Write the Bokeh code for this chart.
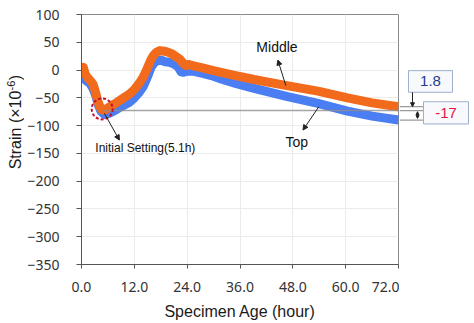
import math
from bokeh.plotting import figure
from bokeh.layouts import row
from bokeh.models import (Range1d, FixedTicker, PrintfTickFormatter, Arrow,
                          NormalHead, Label)
from bokeh.core.properties import value
from bokeh.embed import file_html
from bokeh.resources import INLINE

# ---- data ----
middle_t = [0, 0.4, 0.8, 1.3, 1.9, 2.6, 3.2, 3.7, 4.2, 4.7, 5.3, 6.2, 7.5, 9.0,
            10.9, 12.0, 13.1, 14.0, 14.6, 15.2, 15.8, 16.4, 17.0, 17.8, 18.8,
            19.7, 20.6, 21.5, 22.4, 23.1, 23.7, 24.3, 24.9, 25.7, 27.5, 29.5,
            31.7, 35.0, 39.2, 46.0, 53.7, 60.4, 66.0, 72.0]
middle_v = [2, 5, -6, -13, -18, -25, -40, -56, -66, -72, -72, -67, -61, -53,
            -43, -35, -24, -13, -3, 8, 19, 27, 32, 35, 34,
            32, 29, 24, 19, 12, 8, 10, 9, 7, 4, 0,
            -4, -10, -17, -27, -38, -50, -59, -66]

top_t = [0, 0.5, 1.2, 1.9, 2.6, 3.2, 3.8, 4.4, 5.2, 6.2, 7.5, 9.0, 10.9, 12.0,
         13.1, 14.0, 14.6, 15.2, 15.8, 16.4, 17.0, 18.0, 19.0, 20.0, 21.0,
         22.0, 22.6, 23.2, 24.0, 25.3, 27.5, 29.5, 31.7, 35.0, 39.2, 46.8,
         53.7, 60.4, 66.0, 72.0]
top_v = [-8, -15, -20, -24, -33, -45, -62, -74, -80, -78, -73, -66, -58, -50,
         -40, -30, -19, -8, 5, 12, 16, 18, 15, 14, 11,
         5, -3, -4, -2, -2, -6, -10, -16, -24, -33, -48,
         -60, -74, -83, -90]

x_ticks = [0, 12, 24, 36, 48, 60, 72]
y_ticks = [100, 50, 0, -50, -100, -150, -200, -250, -300, -350]

y_title_parts = ["Strain (×10", "-6", ")"]
x_title = "Specimen Age (hour)"
setting_time = 5.1
setting_strain = -73
diff_middle = "1.8"
diff_top = "-17"

BLUE = "#4a7ef2"
ORANGE = "#f26b1d"
PX_PER_H = 318 / 72.0
STRIP_W = 24

y_range = Range1d(-350, 100)

# ---- left strip holding the y-axis title (with raised exponent) ----
# frames in a row are aligned, so this strip's frame spans page y 14..264
s = figure(width=STRIP_W, height=323, output_backend="svg",
           toolbar_location=None, x_range=Range1d(0, STRIP_W),
           y_range=Range1d(264, 14), x_axis_location=None,
           y_axis_location=None, min_border_left=0, min_border_right=0,
           min_border_top=14, min_border_bottom=59)
s.outline_line_color = None
s.grid.visible = False
s.background_fill_color = "white"
s.border_fill_color = "white"
s.text(x=[15, 10.5, 15], y=[129.5, 85, 77], text=y_title_parts,
       angle=math.pi / 2, text_align="center", text_baseline="middle",
       text_font=value("Liberation Sans"),
       text_font_size=["16px", "11px", "16px"], text_color="#1a1a1a")

# ---- main chart ----
p = figure(width=399 - STRIP_W, height=323, output_backend="svg",
           toolbar_location=None, x_range=Range1d(0, 72), y_range=y_range,
           min_border_left=80 - STRIP_W, min_border_right=1,
           min_border_top=14, min_border_bottom=59)
p.background_fill_color = "white"
p.border_fill_color = "white"
p.outline_line_color = "#8a8a8a"
p.outline_line_width = 1

p.xgrid.ticker = FixedTicker(ticks=x_ticks)
p.ygrid.ticker = FixedTicker(ticks=y_ticks)
p.grid.grid_line_color = "#ebebeb"
p.grid.grid_line_width = 1

p.xaxis.ticker = FixedTicker(ticks=x_ticks)
p.yaxis.ticker = FixedTicker(ticks=y_ticks)
p.xaxis.formatter = PrintfTickFormatter(format="%.1f")
for ax in (p.xaxis, p.yaxis):
    ax.axis_line_color = "#555555"
    ax.major_tick_line_color = "#555555"
    ax.major_tick_in = 0
    ax.minor_tick_line_color = None
    ax.major_label_text_font = "Noto Sans"
    ax.major_label_text_font_size = "14px"
    ax.major_label_text_color = "#333333"
    ax.axis_label_text_font = "Liberation Sans"
    ax.axis_label_text_font_size = "16px"
    ax.axis_label_text_font_style = "normal"
    ax.axis_label_text_color = "#1a1a1a"
p.xaxis.major_tick_out = 4
p.yaxis.major_tick_out = 5
p.xaxis.major_label_standoff = 13
p.yaxis.major_label_standoff = 17
p.xaxis.axis_label = x_title
p.xaxis.axis_label_standoff = 8

# series
p.line(top_t, top_v, line_color=BLUE, line_width=9, line_join="round")
p.line(middle_t, middle_v, line_color=ORANGE, line_width=9, line_join="round")

# reference line at initial setting
p.line([setting_time, 72], [setting_strain, setting_strain],
       line_color="#8f8f8f", line_width=1.5, line_alpha=0.8)

# dashed circle
p.scatter([4.7], [-70], marker="circle", size=21, fill_alpha=0,
          line_color="#c8102e", line_width=2, line_dash="3 2")


def arr(fig, x0, y0, x1, y1, both=False, size=5):
    head = NormalHead(size=size, fill_color="#222222", line_color="#222222")
    start = NormalHead(size=size, fill_color="#222222",
                       line_color="#222222") if both else None
    fig.add_layout(Arrow(end=head, start=start, x_start=x0, y_start=y0,
                         x_end=x1, y_end=y1, line_color="#222222",
                         line_width=1))


arr(p, 5.2, -78, 8.6, -126)
arr(p, 46.4, -28, 44.6, 18)
arr(p, 53.9, -66, 50.3, -108)


def txt(x, y, t, size="14px", color="#111111"):
    p.add_layout(Label(x=x, y=y, text=t, text_align="center",
                       text_baseline="middle", text_font="Liberation Sans",
                       text_font_size=size, text_color=color))


txt(44.4, 41, "Middle")
txt(48.9, -129, "Top")
txt(14.5, -140, "Initial Setting(5.1h)", size="12px")

# ---- right strip with the dimension annotation ----
x0 = 72 + 1 / PX_PER_H
x1 = 72 + 76 / PX_PER_H
q = figure(width=75, height=323, output_backend="svg", toolbar_location=None,
           x_range=Range1d(x0, x1), y_range=y_range,
           x_axis_location=None, y_axis_location=None,
           min_border_left=0, min_border_right=0, min_border_top=14,
           min_border_bottom=59)
q.outline_line_color = None
q.grid.visible = False
q.background_fill_color = "white"
q.border_fill_color = "white"

ext_end = 72 + 25 / PX_PER_H
levels = [middle_v[-1], setting_strain, top_v[-1]]
q.segment(x0=[x0] * 3, y0=levels, x1=[ext_end] * 3, y1=levels,
          line_color="#9a9a9a", line_width=1.2)

box_l = [72 + 10 / PX_PER_H, 72 + 25 / PX_PER_H]
box_r = [72 + 54 / PX_PER_H, 72 + 70 / PX_PER_H]
box_t = [-1, -57]
box_b = [-40, -97]
q.quad(left=box_l, right=box_r, top=box_t, bottom=box_b,
       fill_color="#f7f9fc", line_color="#9fb0cc", line_width=1)
q.text(x=[(box_l[0] + box_r[0]) / 2, (box_l[1] + box_r[1]) / 2],
       y=[(box_t[0] + box_b[0]) / 2, (box_t[1] + box_b[1]) / 2],
       text=[diff_middle, diff_top], text_color=["#1f3c8f", "#e2163c"],
       text_align="center", text_baseline="middle",
       text_font=value("Liberation Sans"), text_font_size="15px")

arr(q, 72 + 14 / PX_PER_H, box_b[0], 72 + 14 / PX_PER_H, middle_v[-1], size=4)
arr(q, 72 + 19 / PX_PER_H, setting_strain - 2, 72 + 19 / PX_PER_H,
    top_v[-1] + 3, both=True, size=3)

layout = row(s, p, q, spacing=0)
open("out.html", "w").write(file_html(layout, INLINE))
